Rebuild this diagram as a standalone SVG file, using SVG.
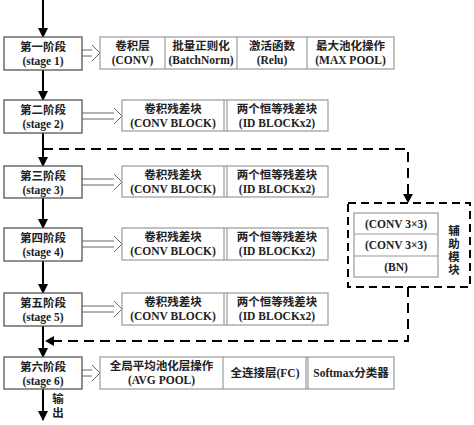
<svg xmlns="http://www.w3.org/2000/svg" width="474" height="425" viewBox="0 0 474 425">
<defs>
<marker id="ah" markerWidth="10" markerHeight="10" refX="9" refY="5" orient="auto" markerUnits="userSpaceOnUse"><path d="M0,0 L10,5 L0,10 Z" fill="#000"/></marker>
<g id="hollow"><path d="M0,-3 H10 M0,3 H10 M10,-8 L18,0 L10,8" fill="none" stroke="#666" stroke-width="1"/></g>
<g id="hollowL"><path d="M0,-3 H32 M0,3 H32 M32,-8 L40,0 L32,8" fill="none" stroke="#666" stroke-width="1"/></g>
</defs>
<style>
.st{fill:#fff;stroke:#555;stroke-width:1.3}
.cp{fill:#fff;stroke:#999;stroke-width:1.2}
.dv{stroke:#999;stroke-width:1.2}
.t{font-family:"Liberation Serif","Noto Sans CJK SC",serif;font-weight:bold;font-size:11.5px;fill:#222;text-anchor:middle}
.ln{stroke:#000;stroke-width:2;fill:none}
.ds{stroke:#000;stroke-width:2;fill:none;stroke-dasharray:10,6}
</style>
<g id="connectors">
<line class="ln" x1="43" y1="0" x2="43" y2="37" marker-end="url(#ah)"/>
<line class="ln" x1="43" y1="70" x2="43" y2="100" marker-end="url(#ah)"/>
<line class="ln" x1="43" y1="133" x2="43" y2="166" marker-end="url(#ah)"/>
<line class="ln" x1="43" y1="198" x2="43" y2="228" marker-end="url(#ah)"/>
<line class="ln" x1="43" y1="261" x2="43" y2="293" marker-end="url(#ah)"/>
<line class="ln" x1="43" y1="326" x2="43" y2="357" marker-end="url(#ah)"/>
<line class="ln" x1="43" y1="389" x2="43" y2="420" marker-end="url(#ah)"/>
<path class="ds" d="M43,149 H408 V196"/>
<path d="M403,194 L413,194 L408,203 Z" fill="#000"/>
<path class="ds" d="M408,287 V341 H54"/>
<path d="M54,336 L54,346 L45,341 Z" fill="#000"/>
<use href="#hollow" x="82" y="53"/>
<use href="#hollowL" x="82" y="116"/>
<use href="#hollowL" x="82" y="182"/>
<use href="#hollowL" x="82" y="244"/>
<use href="#hollowL" x="82" y="309"/>
<use href="#hollow" x="82" y="373"/>
</g>
<g id="stage1"><rect class="st" x="4" y="37" width="78" height="33"/><text class="t" x="43" y="51">第一阶段</text><text class="t" x="43" y="65">(stage 1)</text></g>
<g id="stage2"><rect class="st" x="4" y="100" width="78" height="33"/><text class="t" x="43" y="114">第二阶段</text><text class="t" x="43" y="128">(stage 2)</text></g>
<g id="stage3"><rect class="st" x="4" y="166" width="78" height="32"/><text class="t" x="43" y="180">第三阶段</text><text class="t" x="43" y="194">(stage 3)</text></g>
<g id="stage4"><rect class="st" x="4" y="228" width="78" height="33"/><text class="t" x="43" y="242">第四阶段</text><text class="t" x="43" y="256">(stage 4)</text></g>
<g id="stage5"><rect class="st" x="4" y="293" width="78" height="33"/><text class="t" x="43" y="307">第五阶段</text><text class="t" x="43" y="321">(stage 5)</text></g>
<g id="stage6"><rect class="st" x="4" y="357" width="78" height="32"/><text class="t" x="43" y="371">第六阶段</text><text class="t" x="43" y="385">(stage 6)</text></g>
<g id="output"><text class="t" x="58" y="403">输</text><text class="t" x="58" y="417">出</text></g>
<g id="comp1">
<rect class="cp" x="100" y="37" width="294" height="32"/>
<line class="dv" x1="165" y1="37" x2="165" y2="69"/><line class="dv" x1="237" y1="37" x2="237" y2="69"/><line class="dv" x1="307" y1="37" x2="307" y2="69"/>
<text class="t" x="132.5" y="50">卷积层</text><text class="t" x="132.5" y="64">(CONV)</text>
<text class="t" x="201" y="50">批量正则化</text><text class="t" x="201" y="64">(BatchNorm)</text>
<text class="t" x="272" y="50">激活函数</text><text class="t" x="272" y="64">(Relu)</text>
<text class="t" x="350.5" y="50">最大池化操作</text><text class="t" x="350.5" y="64">(MAX POOL)</text>
</g>
<g id="comp2">
<rect class="cp" x="122" y="100" width="206" height="31"/>
<line class="dv" x1="224" y1="100" x2="224" y2="131"/><line class="dv" x1="227" y1="100" x2="227" y2="131"/>
<text class="t" x="173" y="113">卷积残差块</text><text class="t" x="173" y="127">(CONV BLOCK)</text>
<text class="t" x="277" y="113">两个恒等残差块</text><text class="t" x="277" y="127">(ID BLOCKx2)</text>
</g>
<g id="comp3">
<rect class="cp" x="122" y="166" width="206" height="31"/>
<line class="dv" x1="224" y1="166" x2="224" y2="197"/><line class="dv" x1="227" y1="166" x2="227" y2="197"/>
<text class="t" x="173" y="179">卷积残差块</text><text class="t" x="173" y="193">(CONV BLOCK)</text>
<text class="t" x="277" y="179">两个恒等残差块</text><text class="t" x="277" y="193">(ID BLOCKx2)</text>
</g>
<g id="comp4">
<rect class="cp" x="122" y="228" width="206" height="32"/>
<line class="dv" x1="224" y1="228" x2="224" y2="260"/><line class="dv" x1="227" y1="228" x2="227" y2="260"/>
<text class="t" x="173" y="241">卷积残差块</text><text class="t" x="173" y="255">(CONV BLOCK)</text>
<text class="t" x="277" y="241">两个恒等残差块</text><text class="t" x="277" y="255">(ID BLOCKx2)</text>
</g>
<g id="comp5">
<rect class="cp" x="122" y="293" width="206" height="32"/>
<line class="dv" x1="224" y1="293" x2="224" y2="325"/><line class="dv" x1="227" y1="293" x2="227" y2="325"/>
<text class="t" x="173" y="306">卷积残差块</text><text class="t" x="173" y="320">(CONV BLOCK)</text>
<text class="t" x="277" y="306">两个恒等残差块</text><text class="t" x="277" y="320">(ID BLOCKx2)</text>
</g>
<g id="comp6">
<rect class="cp" x="100" y="357" width="294" height="32"/>
<line class="dv" x1="223" y1="357" x2="223" y2="389"/><line class="dv" x1="306" y1="357" x2="306" y2="389"/><line class="dv" x1="308" y1="357" x2="308" y2="389"/>
<text class="t" x="161.5" y="370">全局平均池化层操作</text><text class="t" x="161.5" y="384">(AVG POOL)</text>
<text class="t" x="265" y="377">全连接层(FC)</text>
<text class="t" x="351" y="377">Softmax分类器</text>
</g>
<g id="aux">
<rect x="348" y="203" width="122" height="84" fill="#fff" stroke="#000" stroke-width="2" stroke-dasharray="8,5"/>
<rect class="cp" x="354" y="213" width="84" height="64"/>
<line class="dv" x1="354" y1="234" x2="438" y2="234"/><line class="dv" x1="354" y1="256" x2="438" y2="256"/>
<text class="t" x="396" y="228">(CONV 3×3)</text>
<text class="t" x="396" y="249">(CONV 3×3)</text>
<text class="t" x="396" y="271">(BN)</text>
<text class="t" x="454" y="235">辅</text><text class="t" x="454" y="248">助</text><text class="t" x="454" y="261">模</text><text class="t" x="454" y="274">块</text>
</g>
</svg>
